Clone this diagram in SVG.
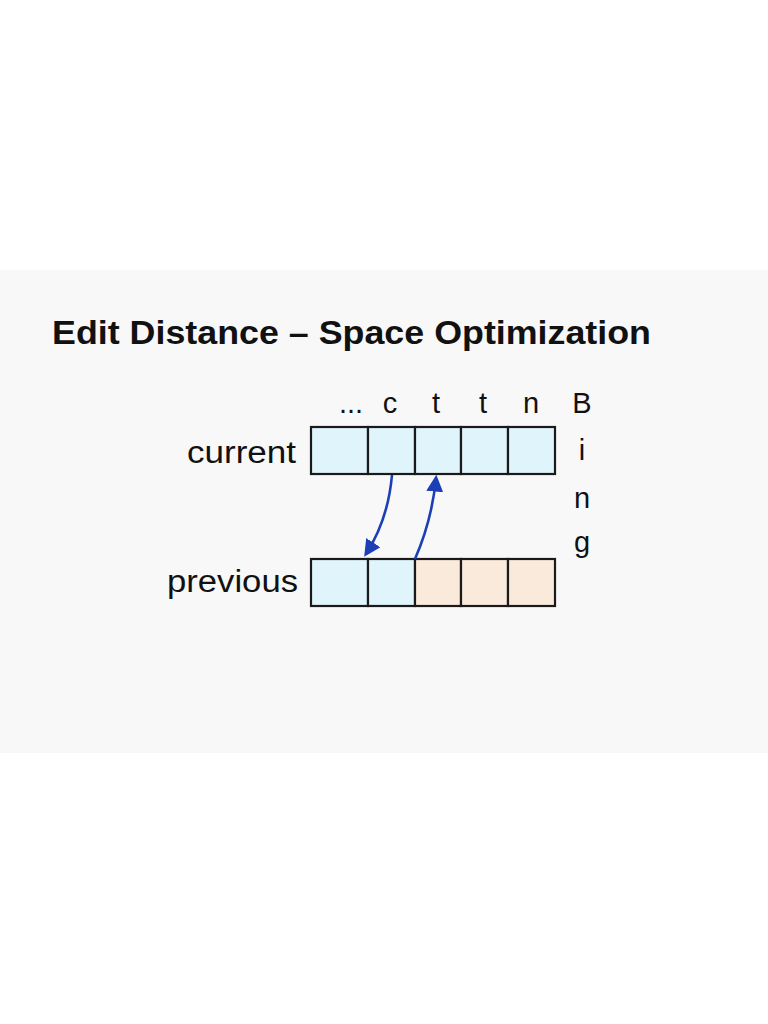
<svg xmlns="http://www.w3.org/2000/svg" width="768" height="1024" viewBox="0 0 768 1024">
<style>
.t{font-family:"Liberation Sans",Arial,sans-serif;fill:#111}
.l{font-size:29px;text-anchor:middle}
.c{stroke:#1a1a1a;stroke-width:2.2}
.a{fill:#e0f4fb}.b{fill:#faeadc}
.ar{fill:none;stroke:#1c3fb8;stroke-width:2.6;marker-end:url(#m)}
</style>
<defs><marker id="m" viewBox="0 0 10 10" refX="8" refY="5" markerWidth="6.5" markerHeight="6.5" orient="auto"><path d="M0,0L10,5L0,10z" fill="#1c3fb8"/></marker></defs>
<rect width="768" height="1024" fill="#fff"/>
<rect x="0" y="270" width="768" height="483" fill="#f8f8f8"/>
<text class="t" x="52" y="344" font-size="33" font-weight="bold" textLength="599" lengthAdjust="spacingAndGlyphs">Edit Distance – Space Optimization</text>
<g id="labels" class="t l">
<text x="351" y="413">...</text><text x="390" y="413">c</text><text x="436" y="413">t</text><text x="483" y="413">t</text><text x="531" y="413">n</text><text x="582" y="413">B</text>
<text x="582" y="460">i</text><text x="582" y="508">n</text><text x="582" y="552">g</text>
</g>
<g id="current">
<text class="t" x="187" y="463" font-size="31" textLength="109" lengthAdjust="spacingAndGlyphs">current</text>
<rect class="a c" x="311" y="427" width="57" height="47"/><rect class="a c" x="368" y="427" width="47" height="47"/><rect class="a c" x="415" y="427" width="46" height="47"/><rect class="a c" x="461" y="427" width="47" height="47"/><rect class="a c" x="508" y="427" width="47" height="47"/>
</g>
<g id="previous">
<text class="t" x="167" y="592" font-size="31" textLength="131" lengthAdjust="spacingAndGlyphs">previous</text>
<rect class="a c" x="311" y="559" width="57" height="47"/><rect class="a c" x="368" y="559" width="47" height="47"/><rect class="b c" x="415" y="559" width="46" height="47"/><rect class="b c" x="461" y="559" width="47" height="47"/><rect class="b c" x="508" y="559" width="47" height="47"/>
</g>
<g id="connectors">
<path class="ar" d="M392,475 Q388,520 366,554"/>
<path class="ar" d="M415,559 Q432,520 436,478"/>
</g>
</svg>
